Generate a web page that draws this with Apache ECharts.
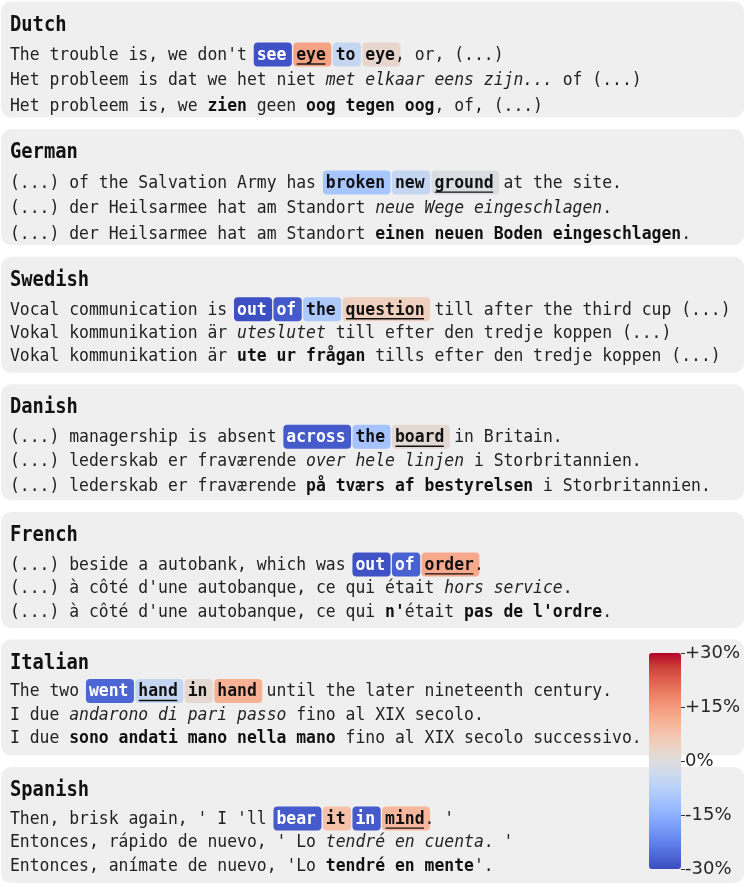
<!DOCTYPE html>
<html><head><meta charset="utf-8">
<script src="https://cdn.jsdelivr.net/npm/echarts@6/dist/echarts.min.js"></script>
<style>html,body{margin:0;padding:0;background:#fff}#c{width:749px;height:887px}</style>
</head><body><div id="c"></div><script>
// ---------------- data ----------------
const languages = ['Dutch', 'German', 'Swedish', 'Danish', 'French', 'Italian', 'Spanish'];

// [word] = idiom token (coloured by score), [_word] = underlined token
const englishLines = [
  "The trouble is, we don't [see] [_eye] [to] [eye], or, (...)",
  "(...) of the Salvation Army has [broken] [new] [_ground] at the site.",
  "Vocal communication is [out] [of] [the] [_question] till after the third cup (...)",
  "(...) managership is absent [across] [the] [_board] in Britain.",
  "(...) beside a autobank, which was [out] [of] [_order].",
  "The two [went] [_hand] [in] [hand] until the later nineteenth century.",
  "Then, brisk again, ' I 'll [bear] [it] [in] [_mind]. '"
];
// *text* = italic
const translatedLines = [
  "Het probleem is dat we het niet *met elkaar eens zijn...* of (...)",
  "(...) der Heilsarmee hat am Standort *neue Wege eingeschlagen*.",
  "Vokal kommunikation är *uteslutet* till efter den tredje koppen (...)",
  "(...) lederskab er fraværende *over hele linjen* i Storbritannien.",
  "(...) à côté d'une autobanque, ce qui était *hors service*.",
  "I due *andarono di pari passo* fino al XIX secolo.",
  "Entonces, rápido de nuevo, ' Lo *tendré en cuenta*. '"
];
// **text** = bold
const literalLines = [
  "Het probleem is, we **zien** geen **oog tegen oog**, of, (...)",
  "(...) der Heilsarmee hat am Standort **einen neuen Boden eingeschlagen**.",
  "Vokal kommunikation är **ute ur frågan** tills efter den tredje koppen (...)",
  "(...) lederskab er fraværende **på tværs af bestyrelsen** i Storbritannien.",
  "(...) à côté d'une autobanque, ce qui **n'**était **pas de l'ordre**.",
  "I due **sono andati mano nella mano** fino al XIX secolo successivo.",
  "Entonces, anímate de nuevo, 'Lo **tendré en mente**'."
];

// token scores (%), in order of the [tokens] in englishLines
const dutchScores   = [-29, 13.5, -5, 2.7];
const germanScores  = [-10.5, -5, -0.5];
const swedishScores = [-29.5, -28, -9.5, 4.8];
const danishScores  = [-28, -11, 1.5];
const frenchScores  = [-29, -27, 12.5];
const italianScores = [-26.5, -5, 2, 11];
const spanishScores = [-28, 8, -28, 10];
const idiomScores = [dutchScores, germanScores, swedishScores, danishScores, frenchScores, italianScores, spanishScores];

const colorbarTicks = [-30, -15, 0, 15, 30];
const scoreMin = -30, scoreMax = 30;

// coolwarm colour map
const coolwarm = ['#3b4cc0', '#4d68d7', '#6282ea', '#779af7', '#8db0fe', '#a3c2ff', '#b8d0f9',
                  '#ccd9ee', '#dddddd', '#ecd3c5', '#f5c4ad', '#f7b194', '#f49a7b', '#ec7f63',
                  '#de604d', '#cb3e38', '#b40426'];

// ---------------- layout ----------------
const CHAR_W = 9.87;
const FONT_SIZE = 18.5;
const SCALE_X = CHAR_W / (0.602 * FONT_SIZE);   // condense mono glyphs to the column pitch
const TITLE_SIZE = 20.5, TITLE_CHAR_W = 11.3;
const TITLE_SCALE_X = TITLE_CHAR_W / (0.602 * TITLE_SIZE);
const MONO = "'DejaVu Sans Mono', monospace";
const PANEL_TOP = 1.5, PANEL_PITCH = 127.6, PANEL_H = 116;
const TITLE_BASE = 30.8;
const FIRST_BASE = [60, 60.5, 59.5, 59.5, 59.5, 58.5, 58.5];   // per panel, px below panel top
const LINE_GAP   = [25.4, 25.4, 23.4, 24.2, 23.4, 23.4, 23.4];
const MID_RATIO = 0.346;   // (baseline - middle) / font size for the mono font
const COLS = 74;

function parse(str) {
  const out = []; let col = 0, i = 0, buf = '', style = 'n';
  const flush = () => { if (buf) { out.push({ text: buf, col: col - buf.length, style }); buf = ''; } };
  while (i < str.length) {
    if (str.startsWith('**', i)) { flush(); style = style === 'b' ? 'n' : 'b'; i += 2; continue; }
    if (str[i] === '*') { flush(); style = style === 'i' ? 'n' : 'i'; i++; continue; }
    if (str[i] === '[') {
      flush();
      const j = str.indexOf(']', i);
      let w = str.slice(i + 1, j), u = false;
      if (w[0] === '_') { u = true; w = w.slice(1); }
      out.push({ text: w, col, style: 'h', underline: u });
      col += w.length; i = j + 1; continue;
    }
    buf += str[i]; col++; i++;
  }
  flush();
  return out;
}

const segments = [];
const tokens = [];
languages.forEach((lang, li) => {
  [englishLines[li], translatedLines[li], literalLines[li]].forEach((s, line) => {
    let k = 0;
    parse(s).forEach(seg => {
      if (seg.style === 'h') {
        tokens.push({ ...seg, lang: li, line, score: idiomScores[li][k++] });
      } else {
        segments.push({ ...seg, lang: li, line });
      }
    });
  });
});

function panelTop(api, li) { return api.coord([0, li])[1]; }
function lineBase(api, li, line) { return panelTop(api, li) + FIRST_BASE[li] + LINE_GAP[li] * line; }

function monoFont(style, size) {
  if (style === 'b') return 'bold ' + size + 'px ' + MONO;
  if (style === 'i') return 'italic ' + size + 'px ' + MONO;
  return size + 'px ' + MONO;
}

function monoText(text, x, baseline, style, fill, size, sx) {
  size = size || FONT_SIZE; sx = sx || SCALE_X;
  return {
    type: 'text', x: x, y: baseline - MID_RATIO * size, scaleX: sx,
    style: { text: text, x: 0, y: 0, font: monoFont(style, size), fill: fill, align: 'left', verticalAlign: 'middle' }
  };
}

const chart = echarts.init(document.getElementById('c'), null, { renderer: 'canvas' });

chart.setOption({
  animation: false,
  backgroundColor: '#ffffff',
  grid: [
    { left: 10, top: PANEL_TOP, width: COLS * CHAR_W, height: PANEL_PITCH * (languages.length - 1) },
    { left: 649, top: 653, width: 32, height: 216 }
  ],
  xAxis: [
    { gridIndex: 0, type: 'value', min: 0, max: COLS, show: false },
    { gridIndex: 1, type: 'value', min: 0, max: 1, show: false }
  ],
  yAxis: [
    { gridIndex: 0, type: 'category', data: languages, inverse: true, boundaryGap: false, show: false },
    {
      gridIndex: 1, type: 'value', min: scoreMin, max: scoreMax, interval: 15, position: 'right', z: 10,
      axisLine: { show: false, onZero: false }, splitLine: { show: false },
      axisTick: { show: true, length: 4, lineStyle: { color: '#333', width: 1 } },
      axisLabel: {
        margin: 4, fontSize: 18, color: '#262626', fontFamily: "'DejaVu Sans', sans-serif",
        formatter: v => colorbarTicks.includes(v) ? (v > 0 ? '+' + v + '%' : v + '%') : ''
      }
    }
  ],
  visualMap: {
    type: 'continuous', min: scoreMin, max: scoreMax, dimension: 3, seriesIndex: 2,
    orient: 'vertical', left: 649, top: 653, padding: 0, itemWidth: 32, itemHeight: 216,
    calculable: false, hoverLink: false, z: 6,
    inRange: { color: coolwarm }
  },
  series: [
    {
      type: 'custom', xAxisIndex: 0, yAxisIndex: 0, z: 1, silent: true,
      data: languages.map((l, i) => [0, i]),
      renderItem: (params, api) => {
        const li = api.value(1);
        const top = panelTop(api, li);
        const x0 = api.coord([0, li])[0];
        return {
          type: 'group', children: [
            { type: 'rect', shape: { x: x0 - 9, y: top, width: 743, height: PANEL_H, r: 10 },
              style: { fill: '#efefef' } },
            monoText(languages[li], x0, top + TITLE_BASE, 'b', '#111', TITLE_SIZE, TITLE_SCALE_X)
          ]
        };
      }
    },
    {
      type: 'custom', xAxisIndex: 0, yAxisIndex: 0, z: 3, silent: true,
      data: segments.map(s => [s.col, s.lang, s.line]),
      renderItem: (params, api) => {
        const s = segments[params.dataIndex];
        const li = api.value(1);
        const x = api.coord([api.value(0), li])[0];
        const base = lineBase(api, li, api.value(2));
        return monoText(s.text, x, base, s.style, s.style === 'b' ? '#111' : '#222');
      }
    },
    {
      type: 'custom', xAxisIndex: 0, yAxisIndex: 0, z: 2, silent: true,
      data: tokens.map(t => [t.col, t.lang, t.text.length, t.score]),
      renderItem: (params, api) => {
        const t = tokens[params.dataIndex];
        const li = api.value(1);
        const x0 = api.coord([api.value(0), li])[0];
        const x1 = api.coord([api.value(0) + api.value(2), li])[0];
        const base = lineBase(api, li, t.line);
        const color = api.visual('color');
        const c = echarts.color.parse(color);
        const lum = (0.299 * c[0] + 0.587 * c[1] + 0.114 * c[2]) / 255;
        const fg = lum < 0.5 ? '#ffffff' : '#111';
        const children = [
          { type: 'rect', shape: { x: x0 - 3, y: base - 19, width: x1 - x0 + 8.5, height: 24, r: 4 },
            style: { fill: color } },
          monoText(t.text, x0, base, 'b', fg)
        ];
        if (t.underline) {
          children.push({ type: 'line', shape: { x1: x0 + 0.5, y1: base + 2.5, x2: x1 - 0.5, y2: base + 2.5 },
            style: { stroke: fg, lineWidth: 1.4 } });
        }
        return { type: 'group', children };
      }
    }
  ]
});
</script></body></html>
